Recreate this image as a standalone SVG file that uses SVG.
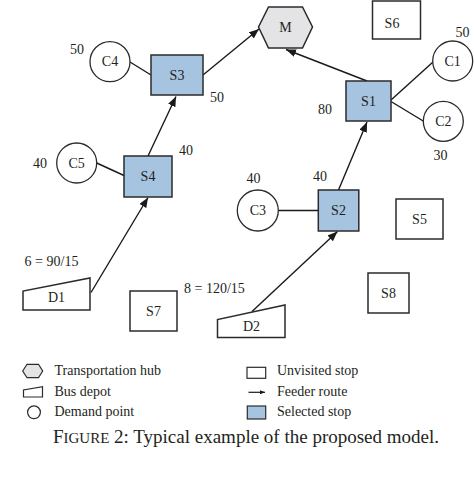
<svg xmlns="http://www.w3.org/2000/svg" width="474" height="480" viewBox="0 0 474 480">
<defs>
<style>
text{font-family:"Liberation Serif","Times New Roman",serif;fill:#231f20;font-size:14px}
.lbl{text-anchor:middle;dominant-baseline:central}
.num{text-anchor:middle;dominant-baseline:central}
.sel{fill:#a6c3df;stroke:#2b2b2b;stroke-width:1.5}
.uns{fill:#fff;stroke:#2b2b2b;stroke-width:1.5}
.dem{fill:#fff;stroke:#2b2b2b;stroke-width:1.3}
.hub{fill:#e4e4e6;stroke:#2b2b2b;stroke-width:1.5}
.edge{stroke:#1a1a1a;stroke-width:1.4;fill:none}
.arr{stroke:#1a1a1a;stroke-width:1.4;fill:none;marker-end:url(#ah)}
.leg{dominant-baseline:central;font-size:14px}
</style>
<marker id="ah" markerUnits="userSpaceOnUse" markerWidth="11" markerHeight="8" refX="10" refY="4" orient="auto">
<path d="M0,0 L10,4 L0,8 z" fill="#1a1a1a"/>
</marker>
<marker id="ahs" markerUnits="userSpaceOnUse" markerWidth="5" markerHeight="4" refX="5" refY="2" orient="auto">
<path d="M0,0 L5,2 L0,4 z" fill="#1a1a1a"/>
</marker>
</defs>

<g id="connectors">
<line class="edge" x1="130" y1="62" x2="151" y2="75"/>
<line class="edge" x1="96.7" y1="163" x2="124" y2="175.5"/>
<line class="edge" x1="278" y1="210.5" x2="318" y2="210.5"/>
<line class="edge" x1="391" y1="100" x2="433" y2="62"/>
<line class="edge" x1="391" y1="101.5" x2="424" y2="121.5"/>
<line class="arr" x1="148" y1="156" x2="176" y2="96.5"/>
<line class="arr" x1="91" y1="292.5" x2="148" y2="197.5"/>
<line class="arr" x1="203" y1="75" x2="259" y2="29"/>
<line class="arr" x1="367" y1="81" x2="286" y2="49.5"/>
<line class="arr" x1="252" y1="311.5" x2="337.5" y2="231.5"/>
<line class="arr" x1="338.5" y1="190" x2="367" y2="122"/>
</g>

<g id="M">
<polygon class="hub" points="258.5,27 268.5,7 302.5,7 312.5,27 302.5,48 268.5,48"/>
<text class="lbl" x="285.5" y="27">M</text>
</g>
<g id="S6">
<rect class="uns" x="372.5" y="1" width="48" height="38"/>
<text class="lbl" x="392" y="23">S6</text>
</g>
<g id="C4">
<circle class="dem" cx="110" cy="61.7" r="20"/>
<text class="lbl" x="110" y="61.7">C4</text>
<text class="num" x="77" y="49">50</text>
</g>
<g id="S3">
<rect class="sel" x="151" y="55" width="52" height="40"/>
<text class="lbl" x="177" y="75">S3</text>
<text class="num" x="217" y="97">50</text>
</g>
<g id="C1">
<circle class="dem" cx="452.7" cy="61" r="20"/>
<text class="lbl" x="452.7" y="61">C1</text>
<text class="num" x="462.5" y="32.5">50</text>
</g>
<g id="S1">
<rect class="sel" x="346" y="81" width="45" height="40"/>
<text class="lbl" x="368.5" y="101">S1</text>
<text class="num" x="325" y="109.5">80</text>
</g>
<g id="C2">
<circle class="dem" cx="443.3" cy="121.3" r="20"/>
<text class="lbl" x="443.3" y="121.3">C2</text>
<text class="num" x="440.5" y="155">30</text>
</g>
<g id="C5">
<circle class="dem" cx="76.7" cy="163" r="20"/>
<text class="lbl" x="76.7" y="163">C5</text>
<text class="num" x="40" y="163">40</text>
</g>
<g id="S4">
<rect class="sel" x="124" y="156" width="48" height="41"/>
<text class="lbl" x="148" y="176.5">S4</text>
<text class="num" x="186" y="150">40</text>
</g>
<g id="C3">
<circle class="dem" cx="257.8" cy="210.5" r="20.5"/>
<text class="lbl" x="257.8" y="210.5">C3</text>
<text class="num" x="253.5" y="178.5">40</text>
</g>
<g id="S2">
<rect class="sel" x="318.3" y="190" width="40.5" height="41"/>
<text class="lbl" x="338.5" y="210.5">S2</text>
<text class="num" x="320" y="176">40</text>
</g>
<g id="S5">
<rect class="uns" x="396" y="199" width="47" height="40"/>
<text class="lbl" x="419.5" y="219">S5</text>
</g>
<g id="S8">
<rect class="uns" x="368" y="273" width="41" height="40"/>
<text class="lbl" x="388.5" y="293">S8</text>
</g>
<g id="S7">
<rect class="uns" x="130" y="291" width="47" height="40"/>
<text class="lbl" x="153.5" y="311">S7</text>
</g>
<g id="D1">
<polygon class="uns" points="23,310 23,291 90,278 90,310"/>
<text class="lbl" x="56.5" y="297">D1</text>
<text class="num" x="51.5" y="261">6 = 90/15</text>
</g>
<g id="D2">
<polygon class="uns" points="217.5,337.5 217.5,319.5 285,305 285,337.5"/>
<text class="lbl" x="251.5" y="326">D2</text>
<text x="184" y="288.5" style="dominant-baseline:central">8 = 120/15</text>
</g>

<g id="legend">
<polygon class="hub" points="22.7,371 27,364.3 38.5,364.3 42.7,371 38.5,377.7 27,377.7" style="stroke-width:1.2"/>
<text class="leg" x="54.5" y="370">Transportation hub</text>
<polygon class="uns" points="23.5,397 23.5,390 42.5,386.7 42.5,397" style="stroke-width:1.2"/>
<text class="leg" x="54.5" y="391">Bus depot</text>
<circle class="dem" cx="34" cy="412.3" r="6.4" style="stroke-width:1.2"/>
<text class="leg" x="54.5" y="411.7">Demand point</text>
<rect class="uns" x="247" y="367.3" width="18.7" height="11" style="stroke-width:1.2"/>
<text class="leg" x="277" y="370">Unvisited stop</text>
<line x1="248.5" y1="392.3" x2="265" y2="392.3" stroke="#1a1a1a" stroke-width="1.2" marker-end="url(#ahs)"/>
<text class="leg" x="277" y="391">Feeder route</text>
<rect class="sel" x="247.3" y="406" width="18.4" height="13" style="stroke-width:1.2"/>
<text class="leg" x="277" y="411.7">Selected stop</text>
</g>

<text x="246" y="443" text-anchor="middle" style="font-size:19px">F<tspan style="font-size:15px">IGURE</tspan> 2: Typical example of the proposed model.</text>
</svg>
